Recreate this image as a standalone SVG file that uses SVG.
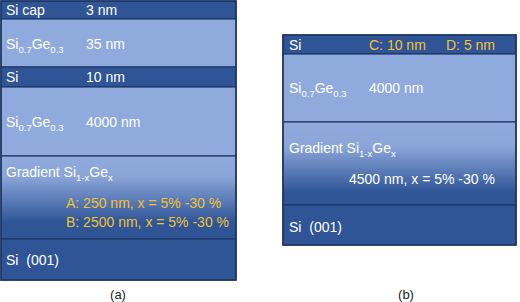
<svg xmlns="http://www.w3.org/2000/svg" width="520" height="302" viewBox="0 0 520 302">
<style>
.dark{fill:#2F5597;stroke:#1F3864;stroke-width:1.2}
.light{fill:#8FAADC;stroke:#1F3864;stroke-width:1.2}
.t{font-family:"Liberation Sans",Arial,sans-serif;font-size:14px;fill:#FFFFFF}
.y{font-family:"Liberation Sans",Arial,sans-serif;font-size:14px;fill:#F2C230}
.s{font-size:9.5px}
.cap{font-family:"Liberation Sans",Arial,sans-serif;font-size:13px;fill:#222222}
.frame{fill:none;stroke:#1F3864;stroke-width:1.6}
</style>
<defs>
<linearGradient id="gradA" x1="0" y1="0" x2="0" y2="1">
<stop offset="0" stop-color="#8FAADC"/>
<stop offset="0.25" stop-color="#8AA5D8"/>
<stop offset="0.8" stop-color="#2F5597"/>
<stop offset="1" stop-color="#2F5597"/>
</linearGradient>
<linearGradient id="gradB" x1="0" y1="0" x2="0" y2="1">
<stop offset="0" stop-color="#8FAADC"/>
<stop offset="0.3" stop-color="#8AA5D8"/>
<stop offset="0.85" stop-color="#2F5597"/>
<stop offset="1" stop-color="#2F5597"/>
</linearGradient>
</defs>
<g id="panel-a">
<g id="a-sicap"><rect class="dark" x="1" y="1" width="235" height="18"/>
<text class="t" x="6" y="15">Si cap</text><text class="t" x="86" y="15">3 nm</text></g>
<g id="a-sige35"><rect class="light" x="1" y="19" width="235" height="48"/>
<text class="t" x="6" y="49">Si<tspan class="s" dy="4">0.7</tspan><tspan dy="-4">Ge</tspan><tspan class="s" dy="4">0.3</tspan></text><text class="t" x="86" y="49">35 nm</text></g>
<g id="a-si10"><rect class="dark" x="1" y="67" width="235" height="20"/>
<text class="t" x="6" y="82">Si</text><text class="t" x="86" y="82">10 nm</text></g>
<g id="a-sige4000"><rect class="light" x="1" y="87" width="235" height="69"/>
<text class="t" x="6" y="127">Si<tspan class="s" dy="4">0.7</tspan><tspan dy="-4">Ge</tspan><tspan class="s" dy="4">0.3</tspan></text><text class="t" x="86" y="127">4000 nm</text></g>
<g id="a-gradient"><rect x="1" y="156" width="235" height="83" fill="url(#gradA)" stroke="#1F3864" stroke-width="1.2"/>
<text class="t" x="6" y="177">Gradient Si<tspan class="s" dy="4">1-x</tspan><tspan dy="-4">Ge</tspan><tspan class="s" dy="4">x</tspan></text>
<text class="y" x="66" y="208">A: 250 nm, x = 5% -30 %</text>
<text class="y" x="66" y="227">B: 2500 nm, x = 5% -30 %</text></g>
<g id="a-substrate"><rect class="dark" x="1" y="239" width="235" height="41"/>
<text class="t" x="6" y="265" xml:space="preserve">Si  (001)</text></g>
<rect class="frame" x="1" y="1" width="235" height="279"/>
<text class="cap" x="118" y="299" text-anchor="middle">(a)</text>
</g>
<g id="panel-b">
<g id="b-si"><rect class="dark" x="283" y="35" width="233" height="19"/>
<text class="t" x="289" y="50">Si</text><text class="y" x="369" y="50">C: 10 nm</text><text class="y" x="446" y="50">D: 5 nm</text></g>
<g id="b-sige"><rect class="light" x="283" y="54" width="233" height="68"/>
<text class="t" x="289" y="93">Si<tspan class="s" dy="4">0.7</tspan><tspan dy="-4">Ge</tspan><tspan class="s" dy="4">0.3</tspan></text><text class="t" x="369" y="93">4000 nm</text></g>
<g id="b-gradient"><rect x="283" y="122" width="233" height="83" fill="url(#gradB)" stroke="#1F3864" stroke-width="1.2"/>
<text class="t" x="289" y="153">Gradient Si<tspan class="s" dy="4">1-x</tspan><tspan dy="-4">Ge</tspan><tspan class="s" dy="4">x</tspan></text>
<text class="t" x="349" y="184">4500 nm, x = 5% -30 %</text></g>
<g id="b-substrate"><rect class="dark" x="283" y="205" width="233" height="40"/>
<text class="t" x="289" y="232" xml:space="preserve">Si  (001)</text></g>
<rect class="frame" x="283" y="35" width="233" height="210"/>
<text class="cap" x="406" y="299" text-anchor="middle">(b)</text>
</g>
<g id="connectors"/>
</svg>
